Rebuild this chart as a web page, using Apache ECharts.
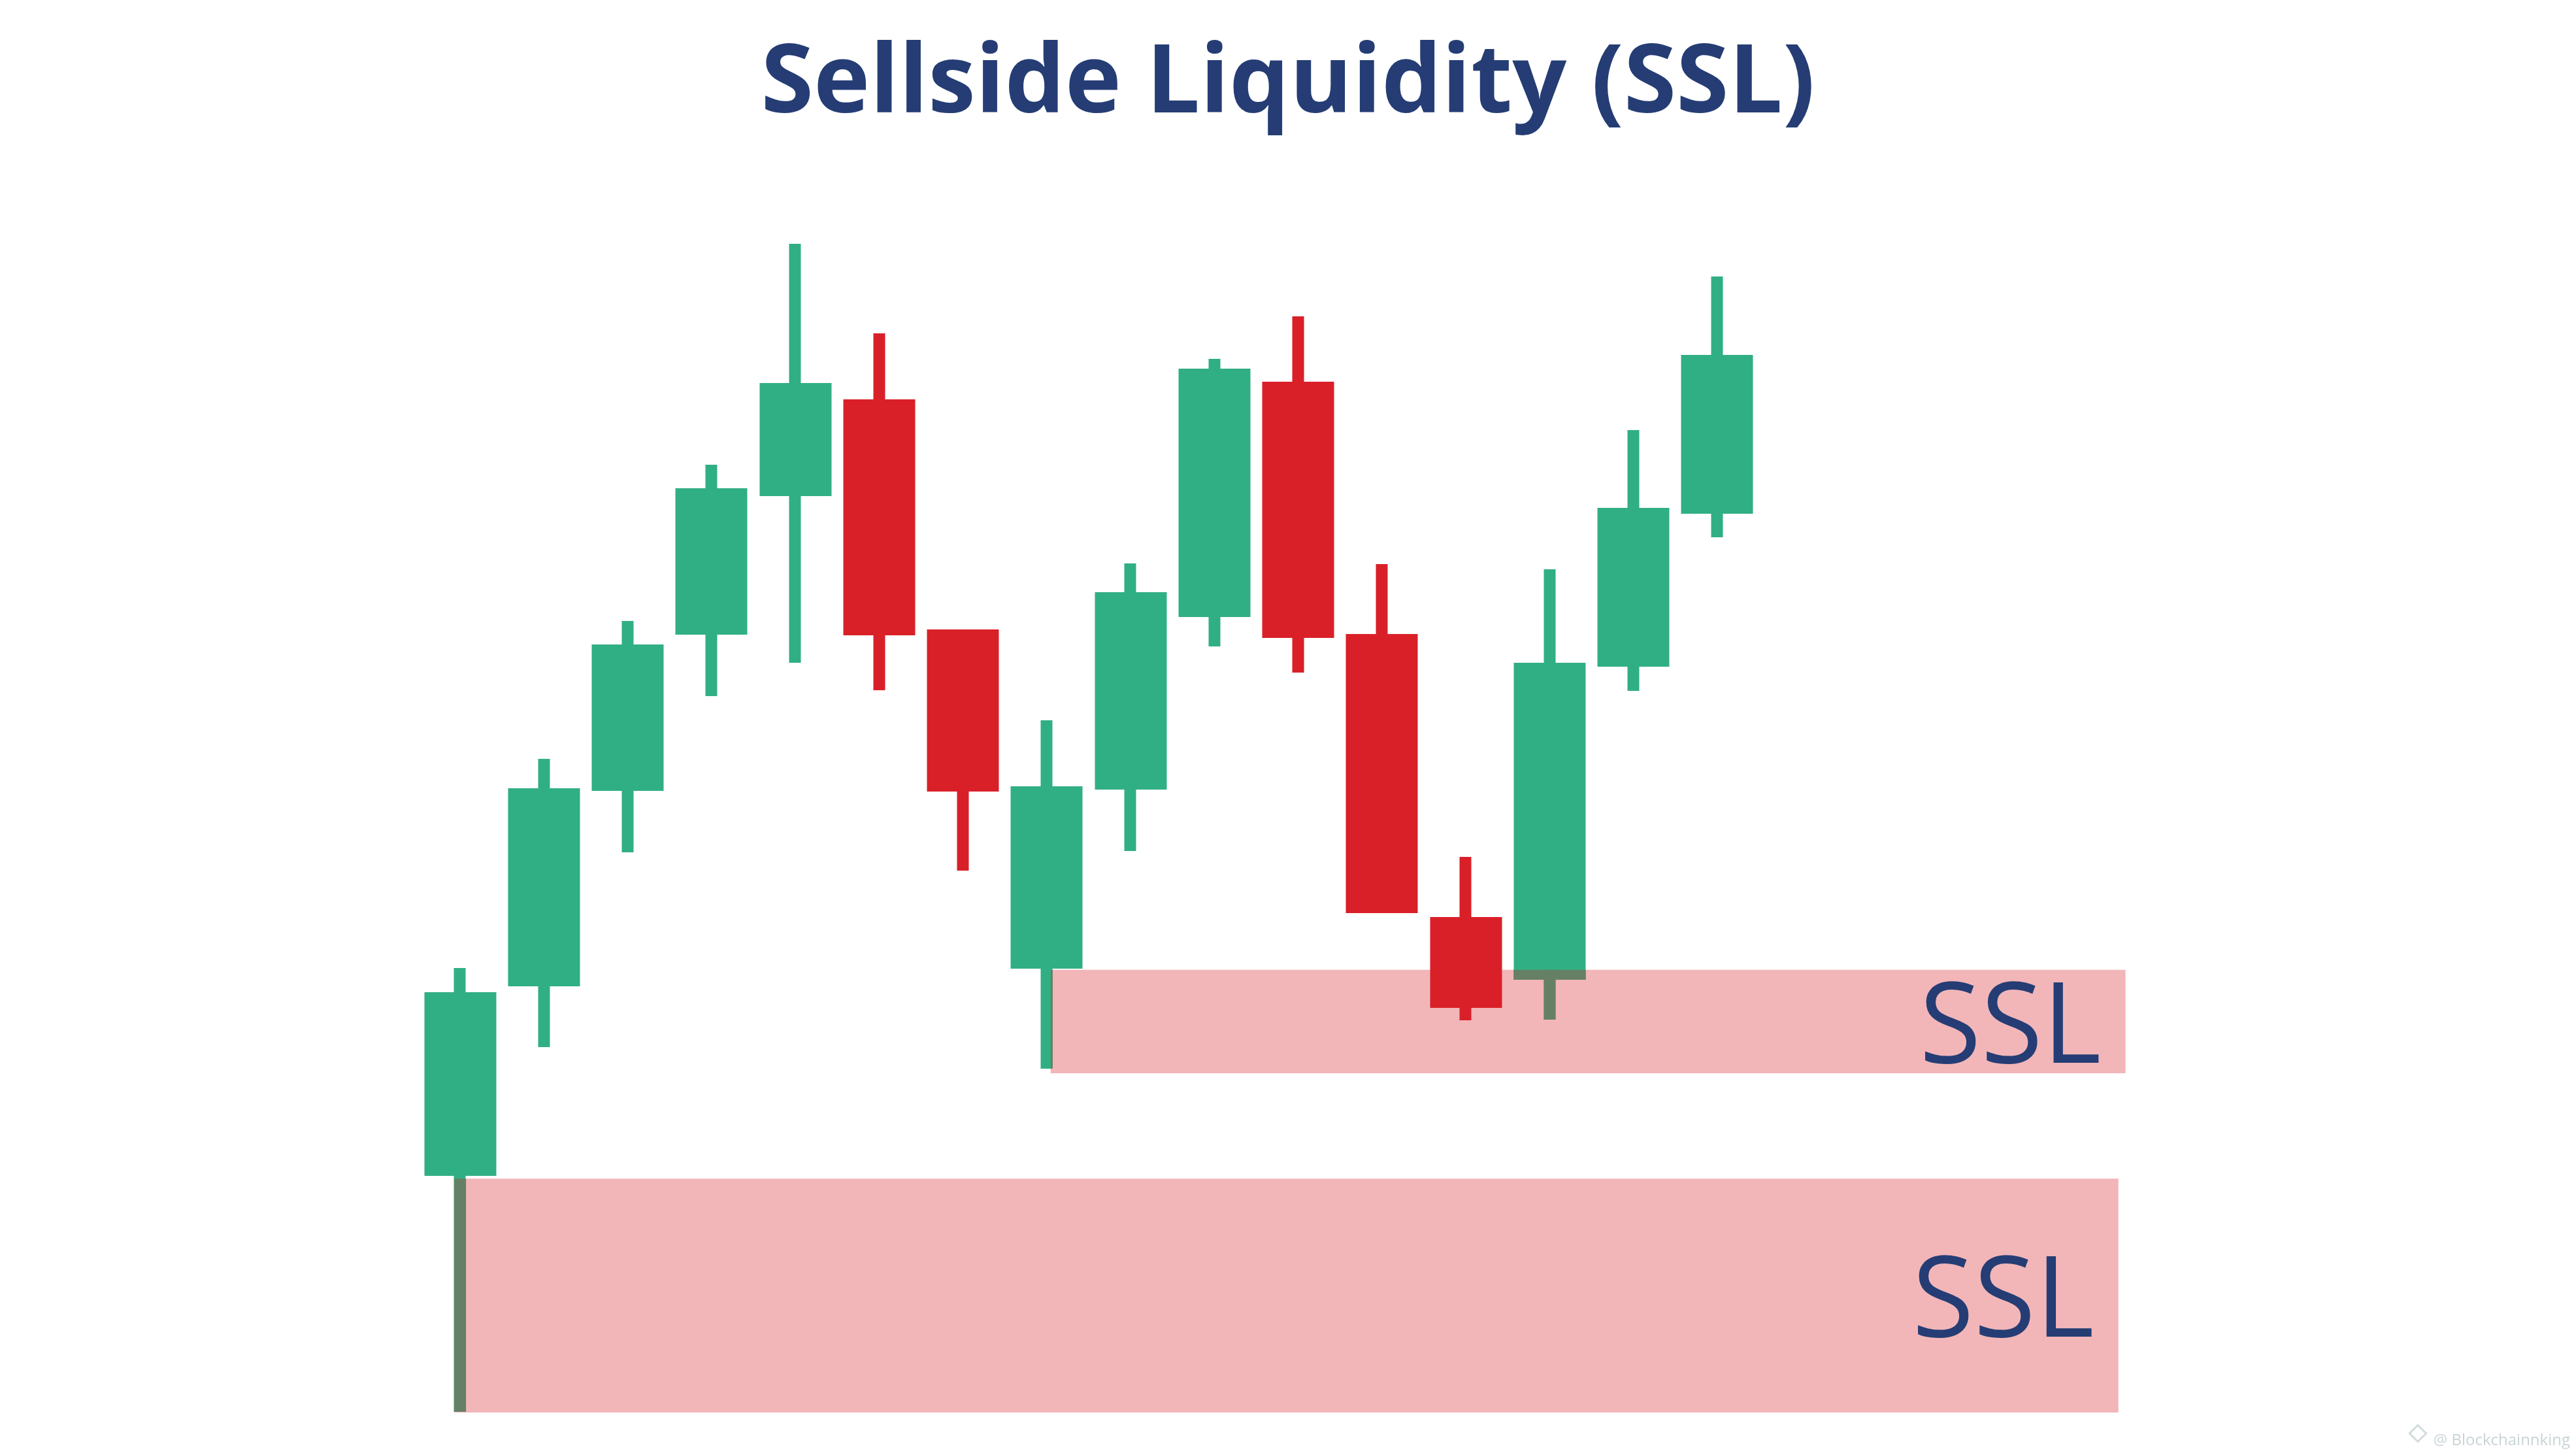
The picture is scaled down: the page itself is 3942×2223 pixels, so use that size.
<!DOCTYPE html>
<html>
<head>
<meta charset="utf-8">
<title>Sellside Liquidity (SSL)</title>
<script src="https://cdn.jsdelivr.net/npm/echarts@6.0.0/dist/echarts.min.js"></script>
<style>
  html, body { margin: 0; padding: 0; background: #ffffff; }
  #chart { width: 3942px; height: 2223px; }
</style>
</head>
<body>
<div id="chart"></div>
<script>
// candles (price units are arbitrary, axis hidden)
const categories = ['1','2','3','4','5','6','7','8','9','10','11','12','13','14','15','16','17','18','19','20','21'];
const opens  = [20.5, 35.0, 49.95, 61.9, 72.5, 79.0, 61.4, 36.35, 50.05, 63.25, 80.35, 61.05, 39.4, 35.5, 59.45, 71.15];
const closes = [33.65, 49.25, 60.25, 72.2, 80.25, 61.85, 49.9, 49.4, 64.25, 81.35, 61.65, 40.6, 33.35, 58.85, 70.7, 82.4];
const lows   = [2.0, 29.9, 44.8, 56.75, 59.3, 57.2, 43.4, 28.25, 44.9, 60.55, 58.55, 40.6, 31.95, 32.0, 57.15, 68.9];
const highs  = [35.95, 51.95, 62.5, 74.45, 91.35, 84.5, 61.4, 54.9, 66.9, 82.55, 85.8, 66.85, 44.45, 66.45, 77.1, 88.85];

// liquidity zones
const zoneStart  = [-0.07, 7.045];
const zoneEnd    = [19.785, 19.87];
const zoneLow    = [1.95, 27.9];
const zoneHigh   = [19.835, 35.815];
const zoneLabels = ['SSL', 'SSL'];

const GREEN = '#31af84';
const RED = '#d92028';
const PINK = '#f2b6b9';
const DARK = '#668066';
const NAVY = '#253d74';
const WICK = 18;
const BODY = 92.5;

const candleData = categories.map((c, i) =>
  i < opens.length ? [opens[i], closes[i], lows[i], highs[i]] : '-'
);
const zoneData = zoneStart.map((s, i) => [s, zoneEnd[i], zoneLow[i], zoneHigh[i]]);
const greenData = [];
opens.forEach((o, i) => {
  if (closes[i] >= o) greenData.push([i, o, closes[i], lows[i], highs[i]]);
});

function clipRect(a, b) {
  const x1 = Math.max(a.x, b.x), y1 = Math.max(a.y, b.y);
  const x2 = Math.min(a.x + a.width, b.x + b.width), y2 = Math.min(a.y + a.height, b.y + b.height);
  if (x2 <= x1 || y2 <= y1) return null;
  return { x: x1, y: y1, width: x2 - x1, height: y2 - y1 };
}

function zonePx(api, k) {
  const p0 = api.coord([zoneStart[k], zoneHigh[k]]);
  const p1 = api.coord([zoneEnd[k], zoneLow[k]]);
  return { x: p0[0], y: p0[1], width: p1[0] - p0[0], height: p1[1] - p0[1] };
}

const chart = echarts.init(document.getElementById('chart'));
const option = {
  backgroundColor: '#ffffff',
  animation: false,
  title: {
    text: 'Sellside Liquidity (SSL)',
    left: 'center',
    top: 52,
    textStyle: {
      fontFamily: 'Open Sans',
      fontWeight: 'bold',
      fontSize: 146,
      color: NAVY
    }
  },
  graphic: [
    {
      type: 'text',
      right: 9,
      bottom: 7,
      style: {
        text: '@ Blockchainnking',
        font: '24px "Open Sans"',
        fill: '#c9d4d6'
      }
    },
    {
      type: 'rect',
      x: 3700,
      y: 2193,
      rotation: Math.PI / 4,
      shape: { x: -9, y: -9, width: 18, height: 18 },
      style: { fill: 'none', stroke: '#d3dcde', lineWidth: 3 }
    }
  ],
  grid: { left: 640, top: 200, width: 2693.4, height: 2000 },
  xAxis: [
    { type: 'category', data: categories, show: false },
    { type: 'value', min: -0.5, max: 20.5, show: false }
  ],
  yAxis: { type: 'value', min: 0, max: 100, show: false, splitLine: { show: false } },
  series: [
    {
      name: 'zones',
      type: 'custom',
      xAxisIndex: 1,
      z: 1,
      silent: true,
      data: zoneData,
      renderItem: (params, api) => {
        const k = params.dataIndex;
        const r = zonePx(api, k);
        return {
          type: 'group',
          children: [
            { type: 'rect', shape: r, style: { fill: PINK } },
            {
              type: 'text',
              x: r.x + r.width - 37,
              y: r.y + r.height / 2 + 14,
              style: {
                text: zoneLabels[k],
                font: '172px "Open Sans"',
                fill: NAVY,
                align: 'right',
                verticalAlign: 'middle'
              }
            }
          ]
        };
      }
    },
    {
      name: 'price',
      type: 'candlestick',
      xAxisIndex: 0,
      z: 2,
      barWidth: BODY,
      data: candleData,
      itemStyle: {
        color: GREEN,
        color0: RED,
        borderColor: GREEN,
        borderColor0: RED,
        borderWidth: WICK
      }
    },
    {
      name: 'overlap',
      type: 'custom',
      xAxisIndex: 1,
      z: 3,
      silent: true,
      data: greenData,
      renderItem: (params, api) => {
        const cx = api.coord([api.value(0), 0])[0];
        const yo = api.coord([0, api.value(1)])[1];
        const yc = api.coord([0, api.value(2)])[1];
        const yl = api.coord([0, api.value(3)])[1];
        const yh = api.coord([0, api.value(4)])[1];
        const half = (BODY + WICK) / 2;
        const body = { x: cx - half, y: yc - WICK / 2, width: 2 * half, height: yo - yc + WICK };
        const wick = { x: cx - WICK / 2, y: yh, width: WICK, height: yl - yh };
        const children = [];
        zoneData.forEach((z, k) => {
          const zr = zonePx(api, k);
          [body, wick].forEach(part => {
            const c = clipRect(part, zr);
            if (c) children.push({ type: 'rect', shape: c, style: { fill: DARK } });
          });
        });
        return { type: 'group', children: children };
      }
    }
  ]
};
chart.setOption(option);
</script>
</body>
</html>
